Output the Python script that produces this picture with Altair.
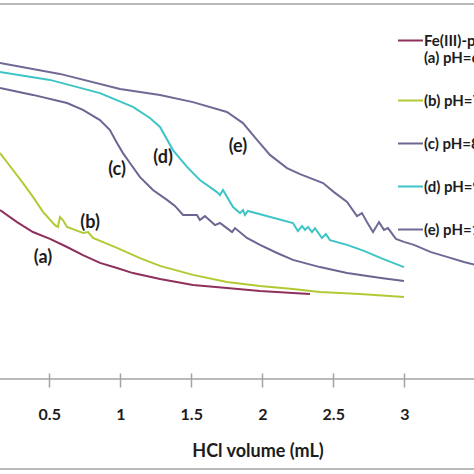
import altair as alt
import pandas as pd

# HCl volume (mL) and pH readings for each titration curve
vol_a = [0.153, 0.273, 0.385, 0.505, 0.625, 0.737, 0.857, 0.977, 1.089, 1.280, 1.512, 1.751, 1.984, 2.216, 2.336]
ph_a = [5.63, 5.23, 4.90, 4.67, 4.40, 4.13, 3.87, 3.70, 3.53, 3.33, 3.13, 3.03, 2.93, 2.87, 2.83]

vol_b = [0.153, 0.223, 0.315, 0.385, 0.456, 0.540, 0.561, 0.575, 0.596, 0.625, 0.681, 0.737, 0.773,
         0.808, 0.977, 1.139, 1.280, 1.512, 1.751, 1.984, 2.216, 2.406, 2.688, 2.998]
ph_b = [7.53, 7.10, 6.53, 6.07, 5.57, 5.13, 5.07, 5.40, 5.30, 5.07, 4.97, 4.87, 4.90,
        4.70, 4.37, 4.03, 3.77, 3.47, 3.23, 3.10, 3.00, 2.90, 2.83, 2.73]

vol_c = [0.153, 0.385, 0.625, 0.737, 0.857, 0.927, 0.977, 1.019, 1.068, 1.139, 1.230, 1.329, 1.385,
         1.442, 1.540, 1.561, 1.596, 1.667, 1.702, 1.787, 1.808, 1.892, 1.984, 2.104, 2.216, 2.406,
         2.597, 2.836, 2.998]
ph_c = [9.70, 9.47, 9.20, 8.97, 8.63, 8.30, 7.87, 7.53, 7.20, 6.73, 6.30, 5.97, 5.77,
        5.47, 5.47, 5.30, 5.43, 5.13, 5.20, 4.90, 5.03, 4.70, 4.47, 4.20, 3.97, 3.73,
        3.53, 3.37, 3.27]

vol_d = [0.153, 0.505, 0.857, 1.089, 1.209, 1.280, 1.371, 1.470, 1.561, 1.681, 1.702, 1.723, 1.794,
         1.843, 1.864, 1.878, 1.899, 2.216, 2.251, 2.280, 2.301, 2.322, 2.350, 2.371, 2.420, 2.448,
         2.477, 2.597, 2.716, 2.836, 2.998]
ph_d = [10.23, 9.97, 9.53, 9.07, 8.70, 8.40, 7.63, 7.07, 6.63, 6.23, 6.13, 6.30, 5.73,
        5.53, 5.63, 5.47, 5.60, 5.20, 4.93, 5.10, 4.97, 5.07, 4.90, 5.03, 4.70, 4.83,
        4.63, 4.47, 4.27, 4.03, 3.73]

vol_e = [0.153, 0.575, 0.998, 1.280, 1.512, 1.751, 1.864, 1.963, 2.054, 2.174, 2.266, 2.428, 2.505,
         2.597, 2.667, 2.702, 2.737, 2.780, 2.822, 2.857, 2.885, 2.941, 2.998, 3.068, 3.188, 3.301,
         3.420, 3.505]
ph_e = [10.53, 10.17, 9.67, 9.47, 9.23, 8.90, 8.53, 7.97, 7.47, 7.03, 6.83, 6.53, 6.23,
        5.90, 5.43, 5.53, 5.23, 4.90, 5.23, 4.97, 5.03, 4.67, 4.57, 4.47, 4.23, 4.07,
        3.90, 3.80]

series_names = ["Fe(III)-phosphate|(a) pH=6", "(b) pH=7", "(c) pH=8", "(d) pH=9", "(e) pH=10"]
series_colors = ["#8e2f5c", "#b3c934", "#6a6692", "#3fc4c6", "#6e6a96"]

note_text = ["(a)", "(b)", "(c)", "(d)", "(e)"]
note_vol = [0.456, 0.787, 0.977, 1.301, 1.829]
note_ph = [4.03, 5.20, 6.97, 7.37, 7.73]

tick_values = [0.5, 1, 1.5, 2, 2.5, 3, 3.5]

VOL_RANGE = [0.153, 3.491]
PH_RANGE = [-3.0, 12.5]

# frame lines at the top and bottom of the plotting range, plus the pH 0 baseline
frame_ph = [PH_RANGE[1], PH_RANGE[0], 0.0]

rows = []
for name, xs, ys in zip(series_names,
                        [vol_a, vol_b, vol_c, vol_d, vol_e],
                        [ph_a, ph_b, ph_c, ph_d, ph_e]):
    for i, (xv, yv) in enumerate(zip(xs, ys)):
        rows.append({"series": name, "volume": xv, "pH": yv, "idx": i})
df = pd.DataFrame(rows)
notes = pd.DataFrame({"note": note_text, "volume": note_vol, "pH": note_ph})
frame = pd.DataFrame({"pH": frame_ph})

x_scale = alt.Scale(domain=VOL_RANGE, nice=False, zero=False)
y_scale = alt.Scale(domain=PH_RANGE, nice=False, zero=False)

FONT = "Lato"
INK = "#1c1c1c"
GRID = "#a3a3a3"

x_axis = alt.Axis(
    values=tick_values,
    format="~g",
    title="HCl volume (mL)",
    grid=False,
    domain=False,
    offset=-96,
    tickSize=14,
    tickColor=GRID,
    tickWidth=1.5,
    labelPadding=19,
    labelFont=FONT,
    labelFontSize=16,
    labelFontWeight="bold",
    labelColor=INK,
    labelFlush=False,
    labelOverlap=False,
    titleFont=FONT,
    titleFontSize=18,
    titleFontWeight="bold",
    titleColor=INK,
    titleX=257.5,
    titleY=83,
    titleAlign="center",
    titleBaseline="alphabetic",
)

lines = alt.Chart(df).mark_line(strokeWidth=2, clip=True).encode(
    x=alt.X("volume:Q", scale=x_scale, axis=x_axis),
    y=alt.Y("pH:Q", scale=y_scale, axis=None),
    color=alt.Color(
        "series:N",
        scale=alt.Scale(domain=series_names, range=series_colors),
        legend=alt.Legend(
            title=None,
            orient="none",
            legendX=397,
            legendY=23,
            padding=0,
            symbolType="stroke",
            symbolSize=625,
            symbolStrokeWidth=2,
            labelExpr="split(datum.label, '|')",
            labelFont=FONT,
            labelFontSize=15,
            labelFontWeight="bold",
            labelColor=INK,
            labelOffset=0,
            labelLimit=400,
            rowPadding=21,
        ),
    ),
    order="idx:Q",
)

frame_rules = alt.Chart(frame).mark_rule(color=GRID, strokeWidth=1.5).encode(
    x=alt.datum(VOL_RANGE[0], scale=x_scale, axis=x_axis),
    x2=alt.datum(VOL_RANGE[1]),
    y=alt.Y("pH:Q", scale=y_scale, axis=None),
)

labels = alt.Chart(notes).mark_text(
    font=FONT, fontSize=18, fontWeight="bold", color=INK
).encode(
    x=alt.X("volume:Q", scale=x_scale, axis=x_axis),
    y=alt.Y("pH:Q", scale=y_scale, axis=None),
    text="note:N",
)

chart = alt.layer(frame_rules, lines, labels).properties(
    width=474,
    height=465,
    autosize=alt.AutoSizeParams(type="none"),
    padding={"left": 0, "right": 0, "top": 4, "bottom": 5},
).configure_view(
    stroke=None
)

chart.save("out.html", embed_options={"renderer": "svg", "actions": False})
